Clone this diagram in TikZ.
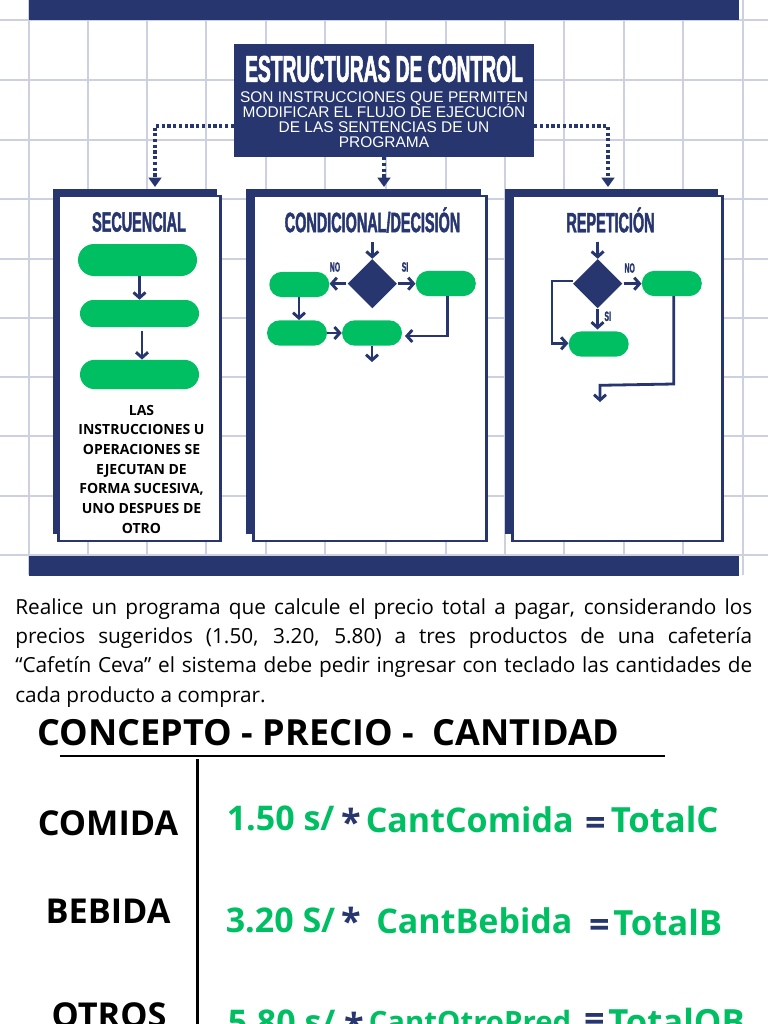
\documentclass[tikz,border=0pt]{standalone}
\usepackage{fontspec}
\setmainfont{Open Sans}
\newfontfamily\arialfont{Liberation Sans}
\newfontfamily\altafont[FakeStretch=0.515,FakeBold=1.5]{Liberation Sans Bold}
\usetikzlibrary{arrows.meta,shapes.geometric,shapes.misc}
\definecolor{azul}{HTML}{27366F}
\definecolor{verde}{HTML}{00BF63}
\definecolor{rejilla}{HTML}{CDD0E1}
\lineskiplimit=-6pt
\tikzset{
    caja/.style={draw=azul,fill=white,line width=1.9pt,inner sep=0pt},
    fondo/.style={fill=azul,inner sep=0pt},
    pildora/.style={rounded rectangle,fill=verde,inner sep=0pt,minimum width=45pt,minimum height=19pt},
    rombo/.style={diamond,fill=azul,inner sep=0pt,minimum width=37pt,minimum height=37pt},
    flecha/.style={azul,line width=2.1pt,-{Straight Barb[length=4pt,width=9pt,line width=2.2pt]}},
    punteada/.style={azul,line width=2.6pt,dash pattern=on 2.4pt off 1.9pt,-{Triangle[length=7pt,width=9.5pt,sep=0pt]}},
    alto/.style={azul,font=\altafont\fontsize{21}{21}\selectfont},
    nota/.style={azul,font=\altafont\fontsize{10}{10}\selectfont},
    etiqueta/.style={anchor=base,font=\bfseries\fontsize{25.7}{25.7}\selectfont},
    valor/.style={anchor=base west,text=verde,inner sep=0pt,font=\bfseries\fontsize{25.5}{25.5}\selectfont},
    signo/.style={anchor=base west,text=azul,inner sep=0pt,font=\bfseries\fontsize{27}{27}\selectfont}
}
\begin{document}
\begin{tikzpicture}[x=0.75pt,y=-0.75pt]
    \useasboundingbox (0,0) rectangle (768,1024);
    \fill[white] (0,0) rectangle (768,1024);
    \foreach \gx in {28.5,88,147,206,266,325,386,446,505,564,624,683,743}
        \draw[rejilla,line width=1.5pt] (\gx,0)--(\gx,575);
    \foreach \gy in {20.5,80,140,199,259,318,377,436,496,555}
        \draw[rejilla,line width=1.5pt] (0,\gy)--(768,\gy);
    \fill[azul] (29,0) rectangle (739,20);
    \fill[azul] (29,555.5) rectangle (739,576);

    \node[fondo,minimum width=225pt,minimum height=84.75pt] (titulo) at (384,100.5) {};
    \node[white,font=\altafont\fontsize{28}{28}\selectfont] (nombre) at (384,69) {ESTRUCTURAS DE CONTROL};
    \node[white,align=center,font=\arialfont\fontsize{11.6}{11.25}\selectfont] (definicion) at (384,120) {SON INSTRUCCIONES QUE PERMITEN\\MODIFICAR EL FLUJO DE EJECUCIÓN\\DE LAS SENTENCIAS DE UN\\PROGRAMA};

    \node[fondo,minimum width=123pt,minimum height=258.75pt] (fondoA) at (135,361.5) {};
    \node[caja,minimum width=121.5pt,minimum height=258.75pt] (panelA) at (139.5,368.5) {};
    \node[fondo,minimum width=176.25pt,minimum height=258.75pt] (fondoB) at (363.5,361.5) {};
    \node[caja,minimum width=174.75pt,minimum height=258.75pt] (panelB) at (370,368.5) {};
    \node[fondo,minimum width=159.75pt,minimum height=258.75pt] (fondoC) at (611.5,361.5) {};
    \node[caja,minimum width=157.5pt,minimum height=258.75pt] (panelC) at (617.5,368.5) {};

    \coordinate (izq) at (155,126);
    \coordinate (der) at (608,126);
    \draw[punteada] (titulo.west |- izq)-|(155,187);
    \draw[punteada] (titulo.south -| 384,0)--(384,187);
    \draw[punteada] (titulo.east |- der)-|(608,187);

    \node[alto] (secuencial) at (139,222) {SECUENCIAL};
    \node[alto] (condicional) at (372.5,220) {CONDICIONAL/DECISIÓN};
    \node[alto] (repeticion) at (610.5,220) {REPETICIÓN};

    \node[pildora,minimum width=89.25pt,minimum height=24pt] (pasoA) at (137.5,260) {};
    \node[pildora,minimum width=89.25pt,minimum height=20.25pt] (pasoB) at (139.5,313.5) {};
    \node[pildora,minimum width=89.25pt,minimum height=22pt] (pasoC) at (139.5,374.5) {};
    \draw[flecha] (139.5,276)--(pasoB.north);
    \coordinate (salidaB) at (142,331);
    \draw[flecha] (salidaB)--(salidaB |- pasoC.north);
    \node[align=center,font=\bfseries\fontsize{10.5}{14.75}\selectfont] (texto) at (141.5,469) {LAS\\INSTRUCCIONES U\\OPERACIONES SE\\EJECUTAN DE\\FORMA SUCESIVA,\\UNO DESPUES DE\\OTRO};

    \coordinate (entradaB) at (372.3,242);
    \node[rombo] (decisionB) at (372.3,283.7) {};
    \node[pildora] (noB) at (299.3,284.5) {};
    \node[pildora] (siB) at (445.8,283.5) {};
    \node[pildora] (bajoB) at (297,333) {};
    \node[pildora] (finB) at (372,333) {};
    \coordinate (cruceB) at (405,336);
    \coordinate (salidaFin) at (372,362);
    \draw[flecha] (entradaB)--(decisionB.north);
    \draw[flecha] (346,283.7)--(noB.east |- 0,283.7);
    \draw[flecha] (397.7,283.7)--(siB.west |- 0,283.7);
    \draw[flecha] (noB.south -| 299,0)--(299,320);
    \draw[flecha] (bajoB.east)--(finB.west);
    \draw[flecha] (447.3,296)|-(cruceB);
    \draw[flecha] (finB.south)--(salidaFin);
    \node[nota] (noTextoB) at (335,267) {NO};
    \node[nota] (siTextoB) at (405,267) {SI};

    \coordinate (entradaC) at (597.5,242);
    \node[rombo] (decisionC) at (597.7,283.7) {};
    \node[pildora] (noC) at (671.8,283.5) {};
    \node[pildora] (siC) at (598.7,344) {};
    \coordinate (lazoC) at (572.7,281);
    \coordinate (salidaC) at (600,402);
    \draw[flecha] (entradaC)--(decisionC.north);
    \draw[flecha] (623.7,283.7)--(noC.west |- 0,283.7);
    \draw[flecha] (597.5,309)--(597.5,329.5);
    \draw[flecha] (lazoC)--(552,281)--(552,343.3)--(siC.west |- 0,343.3);
    \draw[flecha] (673.7,296)--(673.7,384)--(600,385.3)--(salidaC);
    \node[nota] (noTextoC) at (629.7,268) {NO};
    \node[nota] (siTextoC) at (607.7,316.3) {SI};

    \node[anchor=north west,inner sep=0pt,text width=552.75pt,align=justify,font=\fontsize{15.6}{22}\selectfont] (enunciado) at (15,598) {Realice un programa que calcule el precio total a pagar, considerando los\linebreak precios sugeridos (1.50, 3.20, 5.80) a tres productos de una cafetería\linebreak “Cafetín Ceva” el sistema debe pedir ingresar con teclado las cantidades de\linebreak cada producto a comprar.};

    \node[anchor=base west,inner sep=0pt,font=\bfseries\fontsize{27}{27}\selectfont] (cabecera) at (37.5,745.5) {CONCEPTO - PRECIO -\ \ CANTIDAD};
    \coordinate (raya) at (60,756);
    \coordinate (columna) at (197.5,759);
    \draw[line width=1.9pt] (raya)--(665,756);
    \draw[line width=2.2pt] (columna)--(197.5,1024);

    \node[etiqueta] (comida) at (108,835) {COMIDA};
    \node[etiqueta] (bebida) at (108,923) {BEBIDA};
    \node[etiqueta] (otros) at (109,1027) {OTROS};

    \node[valor] (precioC) at (226.5,830) {1.50 s/};
    \node[signo] (porC) at (341.5,835) {*};
    \node[valor] (cantC) at (365.5,832.5) {CantComida};
    \node[signo] (igualC) at (585.5,835) {=};
    \node[valor,font=\bfseries\fontsize{26}{26}\selectfont] (totalC) at (610.5,832.5) {TotalC};

    \node[valor] (precioB) at (225.5,932) {3.20 S/};
    \node[signo] (porB) at (341.5,934) {*};
    \node[valor] (cantB) at (376,933) {CantBebida};
    \node[signo] (igualB) at (589.5,937) {=};
    \node[valor,font=\bfseries\fontsize{26}{26}\selectfont] (totalB) at (613,935) {TotalB};

    \node[valor] (precioO) at (227.5,1034) {5.80 s/};
    \node[signo] (porO) at (344.5,1039) {*};
    \node[valor,font=\bfseries\fontsize{22}{22}\selectfont] (cantO) at (368.5,1032) {CantOtroPred};
    \node[signo] (igualO) at (584.5,1031) {=};
    \node[valor,font=\bfseries\fontsize{26}{26}\selectfont] (totalO) at (608,1034) {TotalOB};
\end{tikzpicture}
\end{document}
